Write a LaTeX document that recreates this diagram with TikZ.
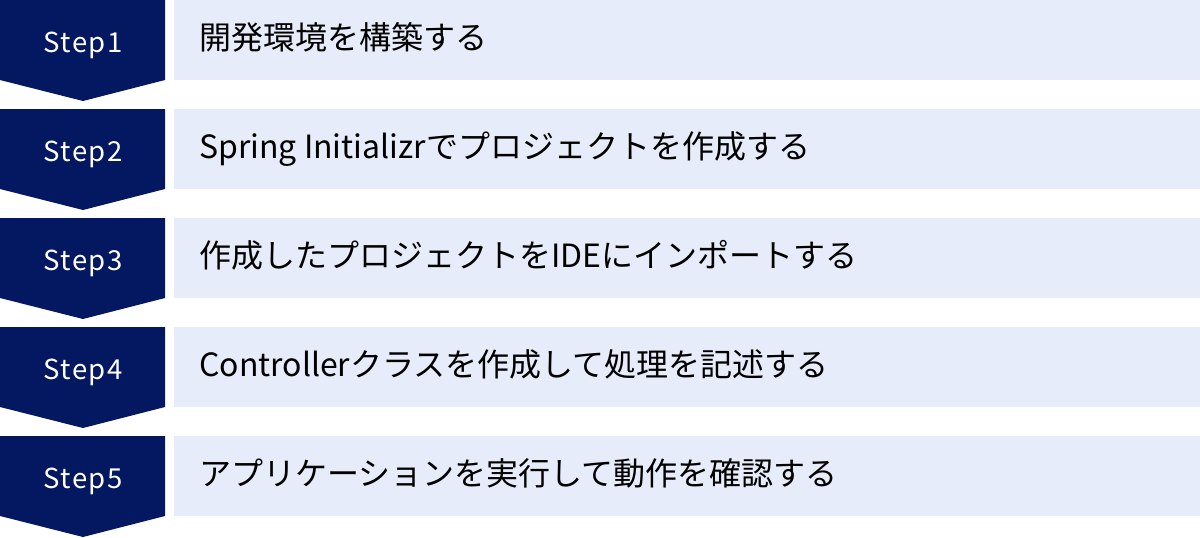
\documentclass[tikz,border=0pt]{standalone}
\usepackage{fontspec}
\setmainfont{Noto Sans CJK JP}
\definecolor{navy}{RGB}{4,24,98}
\definecolor{lightbg}{RGB}{230,236,249}
\begin{document}
\begin{tikzpicture}[x=1pt,y=-1pt,
  chev/.style={fill=navy,draw=none},
  band/.style={fill=lightbg,draw=none},
  steplabel/.style={text=white,font=\fontsize{27.5}{32}\selectfont\addfontfeatures{LetterSpace=6},inner sep=0pt,anchor=base},
  desc/.style={text=black,font=\fontsize{32}{36}\selectfont,inner sep=0pt,anchor=base west}]
\useasboundingbox (0,0) rectangle (1200,538);
\foreach \i/\txt in {1/開発環境を構築する,2/Spring Initializrでプロジェクトを作成する,3/作成したプロジェクトをIDEにインポートする,4/Controllerクラスを作成して処理を記述する,5/アプリケーションを実行して動作を確認する}{
  \pgfmathsetmacro{\t}{109*(\i-1)}
  \fill[chev] (0,\t) -- (165,\t) -- (165,\t+80) -- (83,\t+101) -- (0,\t+80) -- cycle;
  \fill[band] (174,\t) rectangle (1200,\t+80);
  \node[steplabel] (s\i) at (83,\t+52.5) {Step\i};
  \node[desc] (d\i) at (199,\t+49.5) {\txt};
}
\end{tikzpicture}
\end{document}
